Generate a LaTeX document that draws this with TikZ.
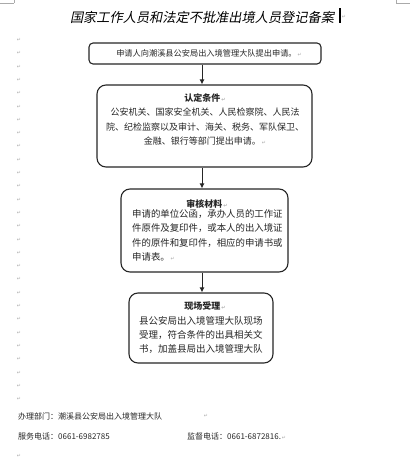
\documentclass[tikz,border=0pt]{standalone}
\usepackage{fontspec}
\usetikzlibrary{arrows.meta}
\newfontfamily\cjk{Noto Sans CJK SC}
\newfontfamily\cjkslant{Noto Sans CJK SC}[FakeSlant=0.2]
\newfontfamily\dv{DejaVu Sans}
\definecolor{markgray}{RGB}{170,170,170}
\newcommand{\parmk}{{\dv\fontsize{5}{5}\selectfont\color{markgray}\,↵}}
\tikzset{
  box/.style={draw=black!85, line width=1.1pt, rounded corners=#1, fill=white},
  arr/.style={draw=black!85, line width=1pt, -{Latex[length=5pt,width=5pt]}},
  txt/.style={inner sep=0pt, font=\cjk\fontsize{9}{14.5}\selectfont, text=black!85},
  pmark/.style={inner sep=0pt, font=\dv\fontsize{5}{5}\selectfont, text=markgray},
}
\begin{document}
\begin{tikzpicture}[x=1pt,y=-1pt]
\useasboundingbox (0,0) rectangle (420,466);
% corner marks
\draw[markgray, line width=0.5pt] (0,3) -- (14,3) (14,0) -- (14,3);
\draw[markgray, line width=0.5pt] (396,3) -- (410,3) (396,0) -- (396,3);
% title
\node[inner sep=0pt, font=\cjkslant\fontsize{13.2}{14}\selectfont] (title) at (202,17) {国家工作人员和法定不批准出境人员登记备案};
\draw[black, line width=1.6pt] (340,8) -- (340,23);
\node[pmark] (mt) at (344,17) {↵};
% paragraph marks on left
\foreach \i in {0,...,27} {
  \node[pmark] (m\i) at (19,40+\i*13.3) {↵};
}
\node[pmark] (mlast) at (19,456) {↵};
% boxes
\node[box=4pt, minimum width=232pt, minimum height=21pt] (b1) at (205,53.5) {};
\node[txt, font=\cjk\fontsize{8.2}{10}\selectfont] (t1) at (209,53.5) {申请人向潮溪县公安局出入境管理大队提出申请。\parmk};
\node[box=9pt, minimum width=215pt, minimum height=82pt] (b2) at (204.5,126) {};
\node[txt, font=\cjk\bfseries\fontsize{9}{10}\selectfont] (h2) at (205,98) {认定条件\parmk};
\node[txt, align=center, anchor=north] (t2) at (205,108) {公安机关、国家安全机关、人民检察院、人民法\\院、纪检监察以及审计、海关、税务、军队保卫、\\金融、银行等部门提出申请。\parmk};
\node[box=9pt, minimum width=167pt, minimum height=83pt] (b3) at (204.5,230.5) {};
\node[txt, font=\cjk\bfseries\fontsize{9}{10}\selectfont] (h3) at (207,204) {审核材料\parmk};
\node[txt, align=left, anchor=north west, font=\cjk\fontsize{9.4}{14.5}\selectfont] (t3) at (132,209) {申请的单位公函，承办人员的工作证\\件原件及复印件，或本人的出入境证\\件的原件和复印件，相应的申请书或\\申请表。\parmk};
\node[box=9pt, minimum width=144pt, minimum height=70pt] (b4) at (201,328) {};
\node[txt, font=\cjk\bfseries\fontsize{9}{10}\selectfont] (h4) at (205,306) {现场受理\parmk};
\node[txt, align=left, anchor=north west, font=\cjk\fontsize{9.5}{14}\selectfont] (t4) at (139,316) {县公安局出入境管理大队现场\\受理，符合条件的出具相关文\\书，加盖县局出入境管理大队};
% arrows
\coordinate (ax) at (202,0);
\draw[arr] (b1.south -| ax) -- (b2.north -| ax);
\draw[arr] (b2.south -| ax) -- (b3.north -| ax);
\draw[arr] (b3.south -| ax) -- (b4.north -| ax);
% footer
\node[txt, anchor=west, font=\cjk\fontsize{8}{10}\selectfont] (f1) at (18,416) {办理部门：潮溪县公安局出入境管理大队};
\node[pmark] (mf1) at (206,416) {↵};
\node[txt, anchor=west, font=\cjk\fontsize{8}{10}\selectfont] (f2) at (18,436) {服务电话：0661-6982785};
\node[txt, anchor=west, font=\cjk\fontsize{8}{10}\selectfont] (f3) at (187,436) {监督电话：0661-6872816.\parmk};
\end{tikzpicture}
\end{document}
